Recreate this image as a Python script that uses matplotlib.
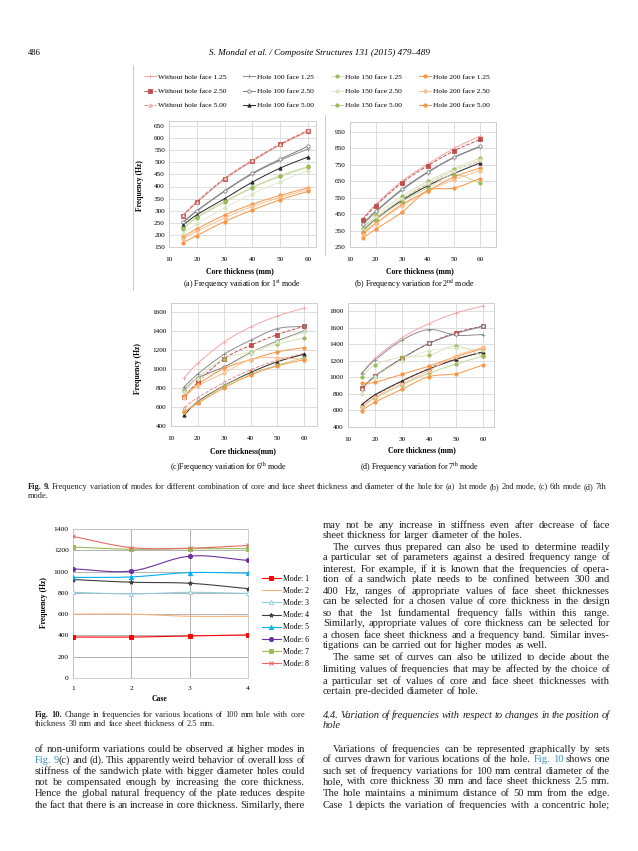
import numpy as np
import matplotlib
matplotlib.use('Agg')
import matplotlib.pyplot as plt
from matplotlib.lines import Line2D

W, H = 638, 851
plt.rcParams['mathtext.fontset'] = 'stix'

# ---------------- data: Fig. 9 ----------------
core = [15, 20, 30, 40, 50, 60]
face_labels = ['1.25', '2.50', '5.00']

# each list holds the three face sheet thicknesses 1.25 / 2.50 / 5.00
m1_nohole = [[278, 334, 430, 505, 572, 628], [280, 336, 432, 507, 574, 631], [282, 338, 434, 509, 576, 633]]
m1_h100 = [[250, 298, 380, 452, 508, 555], [253, 300, 382, 455, 513, 566], [240, 283, 350, 418, 476, 522]]
m1_h150 = [[228, 275, 340, 397, 445, 483], [205, 245, 312, 370, 420, 466], [225, 270, 335, 395, 442, 480]]
m1_h200 = [[192, 225, 282, 327, 363, 395], [185, 215, 270, 318, 355, 388], [168, 197, 255, 303, 345, 380]]

m2_nohole = [[423, 508, 650, 755, 850, 925], [415, 500, 640, 745, 835, 905], [365, 430, 540, 635, 715, 775]]
m2_h100 = [[385, 462, 595, 703, 793, 860], [390, 467, 600, 707, 796, 863], [350, 418, 532, 623, 697, 762]]
m2_h150 = [[366, 447, 558, 650, 725, 792], [355, 430, 545, 640, 715, 780], [340, 415, 525, 610, 690, 640]]
m2_h200 = [[335, 394, 508, 593, 676, 731], [320, 390, 500, 590, 660, 715], [303, 358, 461, 593, 609, 666]]

m6_nohole = [[908, 1058, 1285, 1443, 1558, 1642], [710, 860, 1110, 1250, 1362, 1450], [593, 698, 859, 992, 1093, 1163]]
m6_h100 = [[813, 946, 1156, 1303, 1425, 1450], [780, 905, 1023, 1173, 1296, 1400], [516, 656, 824, 964, 1076, 1156]]
m6_h150 = [[771, 908, 1110, 1180, 1261, 1327], [760, 890, 1000, 1165, 1285, 1390], [550, 650, 820, 950, 1040, 1120]]
m6_h200 = [[719, 838, 1006, 1100, 1180, 1226], [700, 820, 960, 1100, 1120, 1100], [544, 638, 803, 936, 1033, 1097]]

m7_nohole = [[1040, 1228, 1476, 1648, 1776, 1860], [870, 1010, 1230, 1410, 1540, 1620], [660, 780, 950, 1110, 1225, 1300]]
m7_h100 = [[1048, 1208, 1448, 1576, 1508, 1516], [856, 1016, 1228, 1408, 1528, 1616], [668, 788, 956, 1100, 1216, 1308]]
m7_h150 = [[1000, 1150, 1245, 1265, 1380, 1255], [800, 1000, 1200, 1320, 1350, 1330], [640, 748, 908, 1048, 1160, 1256]]
m7_h200 = [[928, 940, 1036, 1136, 1248, 1348], [640, 760, 920, 1080, 1260, 1360], [596, 700, 856, 1008, 1044, 1148]]

# ---------------- data: Fig. 10 ----------------
cases = [1, 2, 3, 4]
mode1 = [385, 385, 395, 405]
mode2 = [600, 600, 580, 580]
mode3 = [805, 790, 805, 795]
mode4 = [925, 900, 890, 840]
mode5 = [945, 950, 990, 985]
mode6 = [1025, 1005, 1145, 1105]
mode7 = [1230, 1210, 1215, 1215]
mode8 = [1330, 1225, 1220, 1245]

# styles (group -> three faces): color, linestyle, marker, marker face
group_names = ['Without hole', 'Hole 100', 'Hole 150', 'Hole 200']
group_styles = [
    [('#F4A6A4', '-', '+', '#F4A6A4'), ('#C0504D', '--', 's', '#C0504D'), ('#E58E8A', '--', '^', 'white')],
    [('#8C8C8C', '-', '+', '#8C8C8C'), ('#7F7F7F', '-', 'o', 'white'), ('#262626', '-', '^', '#262626')],
    [('#D7E4BD', '-', 'o', '#9BBB59'), ('#E3ECCF', '-', 'o', '#D7E4BD'), ('#C3D69B', '-', 'o', '#9BBB59')],
    [('#F79646', '-', 'o', '#F79646'), ('#FAC090', '-', 'o', '#FAC090'), ('#F79646', '-', 'o', '#F79646')],
]

fig = plt.figure(figsize=(W / 100, H / 100), dpi=100)
fig.patch.set_facecolor('white')


def smooth(xs, ys, n=16):
    # Catmull-Rom curve through the points, like Excel "smoothed line"
    p = np.column_stack([xs, ys]).astype(float)
    p = np.vstack([2 * p[0] - p[1], p, 2 * p[-1] - p[-2]])
    t = np.linspace(0, 1, n, endpoint=False)[:, None]
    out = []
    for i in range(1, len(p) - 2):
        p0, p1, p2, p3 = p[i - 1], p[i], p[i + 1], p[i + 2]
        out.append(0.5 * (2 * p1 + (-p0 + p2) * t + (2 * p0 - 5 * p1 + 4 * p2 - p3) * t ** 2
                          + (-p0 + 3 * p1 - 3 * p2 + p3) * t ** 3))
    out.append(p[-2][None])
    out = np.vstack(out)
    return out[:, 0], out[:, 1]


def axes_at(xt, xp, yt, yp, xlim, ylim):
    # place an axes so that tick values xt/yt land on pixel positions xp/yp
    sx = (xp[1] - xp[0]) / (xt[1] - xt[0])
    left = xp[0] + (xlim[0] - xt[0]) * sx
    right = xp[0] + (xlim[1] - xt[0]) * sx
    sy = (yp[1] - yp[0]) / (yt[1] - yt[0])
    top = yp[0] + (ylim[1] - yt[0]) * sy
    bottom = yp[0] + (ylim[0] - yt[0]) * sy
    ax = fig.add_axes([left / W, 1 - bottom / H, (right - left) / W, (bottom - top) / H])
    ax.set_xlim(xlim)
    ax.set_ylim(ylim)
    return ax


def style_axes(ax, xticks, yticks, grid_color='#D9D9D9', fs=5.2):
    ax.set_xticks(xticks)
    ax.set_yticks(yticks)
    ax.grid(True, color=grid_color, lw=0.6)
    ax.set_axisbelow(True)
    for s in ax.spines.values():
        s.set_color('#C8C8C8')
        s.set_linewidth(0.6)
    ax.tick_params(length=0, labelsize=fs, pad=3)
    ax.tick_params(axis='x', pad=7)
    for lab in ax.get_xticklabels() + ax.get_yticklabels():
        lab.set_fontfamily('Liberation Serif')


def ftext(x, y, s, **kw):
    return fig.text(x / W, 1 - y / H, s, **kw)


def draw_fig9_panel(ax, groups):
    for g, series in enumerate(groups):
        for f, vals in enumerate(series):
            c, ls, mk, mfc = group_styles[g][f]
            sx, sy = smooth(core, vals)
            ax.plot(sx, sy, color=c, ls=ls, lw=0.7, zorder=2)
            ax.plot(core, vals, ls='none', marker=mk, ms=2.4, color=c,
                    mec=c if mfc == 'white' else mfc, mfc=mfc, mew=0.6, zorder=3)


panels = [
    (((10, 60), (169, 308), (650, 150), (126, 247), (10, 63), (150, 670)),
     [m1_nohole, m1_h100, m1_h150, m1_h200], range(150, 651, 50)),
    (((10, 60), (349.5, 480), (950, 250), (132, 247), (10, 66), (250, 1010)),
     [m2_nohole, m2_h100, m2_h150, m2_h200], range(250, 951, 100)),
    (((10, 60), (171, 304), (1600, 400), (312, 426), (10, 65), (400, 1700)),
     [m6_nohole, m6_h100, m6_h150, m6_h200], range(400, 1601, 200)),
    (((10, 60), (348, 483), (1800, 400), (311, 427), (10, 64), (400, 1900)),
     [m7_nohole, m7_h100, m7_h150, m7_h200], range(400, 1801, 200)),
]
for geo, groups, yt in panels:
    ax = axes_at(*geo)
    style_axes(ax, range(10, 61, 10), list(yt))
    draw_fig9_panel(ax, groups)

serif = 'Liberation Serif'
lab_kw = dict(fontfamily=serif, fontsize=5.5, fontweight='bold', ha='center', va='center')
ftext(240, 271, 'Core thickness (mm)', **lab_kw)
ftext(420, 271, 'Core thickness (mm)', **lab_kw)
ftext(243, 451, 'Core thickness(mm)', **lab_kw)
ftext(422, 450, 'Core thickness (mm)', **lab_kw)
ftext(140, 186, 'Frequency (Hz)', rotation=90, **lab_kw)
ftext(138, 369, 'Frequency (Hz)', rotation=90, **lab_kw)

cap_kw = dict(fontfamily=serif, fontsize=5.8, ha='center', va='center')
ftext(242, 284, r'(a) Frequency variation for 1$^{\mathrm{st}}$ mode', **cap_kw)
ftext(414, 284, r'(b) Frequency variation for 2$^{\mathrm{nd}}$ mode', **cap_kw)
ftext(228, 467, r'(c)Frequency variation for 6$^{\mathrm{th}}$ mode', **cap_kw)
ftext(420, 467, r'(d) Frequency variation for 7$^{\mathrm{th}}$ mode', **cap_kw)

# legend of Fig. 9 (one column per hole group)
handles, labels = [], []
for g in range(4):
    for f in range(3):
        c, ls, mk, mfc = group_styles[g][f]
        handles.append(Line2D([], [], color=c, ls=ls, lw=0.7, marker=mk, ms=2.4,
                              mfc=mfc, mec=c if mfc == 'white' else mfc, mew=0.6))
        labels.append(f'{group_names[g]} face {face_labels[f]}')
fig.legend(handles, labels, ncol=4, loc='upper left', bbox_to_anchor=(140 / W, 1 - 70 / H),
           frameon=False, prop={'family': serif, 'size': 5.4}, handlelength=1.6,
           handletextpad=0.3, columnspacing=2.2, labelspacing=1.05, borderpad=0)

# thin frame lines of the original chart images
fig.add_artist(Line2D([133 / W, 133 / W], [1 - 65 / H, 1 - 290 / H], color='#BFBFBF', lw=0.6))
fig.add_artist(Line2D([325 / W, 325 / W], [1 - 115 / H, 1 - 255 / H], color='#BFBFBF', lw=0.6))

# ---------------- Fig. 10 ----------------
ax10 = axes_at((1, 4), (73, 248), (1400, 0), (529, 678), (1, 4), (0, 1400))
style_axes(ax10, cases, range(0, 1401, 200), grid_color='#A6A6A6', fs=5.4)
ax10.tick_params(axis='x', pad=6)
mode_vals = [mode1, mode2, mode3, mode4, mode5, mode6, mode7, mode8]
mode_styles = [('#FF0000', 's', '#FF0000'), ('#F9B27A', '_', '#F9B27A'), ('#93CDDD', '^', 'white'),
               ('#404040', '*', '#404040'), ('#00B0F0', '^', '#00B0F0'), ('#7030A0', 'o', '#7030A0'),
               ('#9BBB59', 's', '#9BBB59'), ('#E46C64', 'x', '#E46C64')]
h10 = []
for i, vals in enumerate(mode_vals):
    c, mk, mfc = mode_styles[i]
    sx, sy = smooth(cases, vals)
    ax10.plot(sx, sy, color=c, lw=0.8, zorder=2)
    ax10.plot(cases, vals, ls='none', marker=mk, ms=3, color=c, mfc=mfc, mec=c, mew=0.7, zorder=3)
    h10.append(Line2D([], [], color=c, lw=0.8, marker=mk, ms=3, mfc=mfc, mec=c, mew=0.7))
fig.legend(h10, [f'Mode: {i + 1}' for i in range(8)], loc='upper left',
           bbox_to_anchor=(258 / W, 1 - 571 / H), frameon=False,
           prop={'family': serif, 'size': 5.6}, handlelength=2.4, handletextpad=0.3,
           labelspacing=0.53, borderpad=0)
ftext(160, 699, 'Case', **lab_kw)
ftext(44, 603, 'Frequency (Hz)', rotation=90, **lab_kw)

# ---------------- page text ----------------
renderer = fig.canvas.get_renderer()
BODY = 'Liberation Serif'
LINK = '#3A8DBE'


def tokenize(segs):
    words, glue = [], False
    for txt, st in segs:
        parts = txt.split(' ')
        for i, p in enumerate(parts):
            if i == 0 and glue and words:
                if p:
                    words[-1].append((p, st))
            elif p:
                words.append([(p, st)])
        glue = not txt.endswith(' ')
    return words


def put_line(x0, x1, y, segs, size, justify=True, family=BODY, style='normal'):
    if isinstance(segs, str):
        segs = [(segs, {})]
    words = tokenize(segs)
    space = size * 100 / 72 * 0.25

    def build(sz):
        objs, widths = [], []
        for w in words:
            pieces, wsum = [], 0
            for txt, st in w:
                kw = dict(fontfamily=family, fontsize=sz, fontstyle=style, va='baseline', ha='left',
                          color='#231F20')
                kw.update(st)
                t = fig.text(0, 1 - y / H, txt, **kw)
                bw = t.get_window_extent(renderer).width
                pieces.append((t, bw))
                wsum += bw
            objs.append(pieces)
            widths.append(wsum)
        return objs, widths

    objs, widths = build(size)
    # shrink a line that would not fit with a minimal word gap
    need = sum(widths) + space * 0.8 * (len(words) - 1)
    if need > x1 - x0:
        for pieces in objs:
            for t, _ in pieces:
                t.remove()
        objs, widths = build(size * (x1 - x0) / need)
    if justify and len(words) > 1:
        gap = (x1 - x0 - sum(widths)) / (len(words) - 1)
    else:
        gap = space
    x = x0
    for pieces, wsum in zip(objs, widths):
        xx = x
        for t, bw in pieces:
            t.set_x(xx / W)
            xx += bw
        x += wsum + gap


BS = 7.6
CS = 6.0
bold = {'fontweight': 'bold'}
link = {'color': LINK}

# header
ftext(28, 55, '486', fontfamily=BODY, fontsize=6.2, va='baseline')
ftext(320, 55, 'S. Mondal et al. / Composite Structures 131 (2015) 479\u2013489', fontfamily=BODY,
      fontsize=6.6, style='italic', ha='center', va='baseline')

# Fig. 9 caption
put_line(28, 606, 489, [('Fig. 9.', bold), (' Frequency variation of modes for different combination of core and face '
                                            'sheet thickness and diameter of the hole for (a) 1st mode (b) 2nd mode, '
                                            '(c) 6th mode (d) 7th', {})], CS)
put_line(28, 606, 498, 'mode.', CS, justify=False)

# Fig. 10 caption
put_line(35, 305, 717, [('Fig. 10.', bold), (' Change in frequencies for various locations of 100 mm hole with core', {})], CS)
put_line(35, 305, 726.5, 'thickness 30 mm and face sheet thickness of 2.5 mm.', CS, justify=False)

left_lines = [
    ('of non-uniform variations could be observed at higher modes in', True),
    ([('Fig. 9', link), ('(c) and (d). This apparently weird behavior of overall loss of', {})], True),
    ('stiffness of the sandwich plate with bigger diameter holes could', True),
    ('not be compensated enough by increasing the core thickness.', True),
    ('Hence the global natural frequency of the plate reduces despite', True),
    ('the fact that there is an increase in core thickness. Similarly, there', True),
]
for i, (txt, j) in enumerate(left_lines):
    put_line(35, 305, 752 + i * 11.1, txt, BS, justify=j)

R0, R1 = 323, 610
right_lines = [
    (525, 0, 'may not be any increase in stiffness even after decrease of face', True),
    (536, 0, 'sheet thickness for larger diameter of the holes.', False),
    (547, 10, 'The curves thus prepared can also be used to determine readily', True),
    (558, 0, 'a particular set of parameters against a desired frequency range of', True),
    (569, 0, 'interest. For example, if it is known that the frequencies of opera-', True),
    (580, 0, 'tion of a sandwich plate needs to be confined between 300 and', True),
    (591, 0, '400 Hz, ranges of appropriate values of face sheet thicknesses', True),
    (602, 0, 'can be selected for a chosen value of core thickness in the design', True),
    (613, 0, 'so that the 1st fundamental frequency falls within this range.', True),
    (624, 0, 'Similarly, appropriate values of core thickness can be selected for', True),
    (635, 0, 'a chosen face sheet thickness and a frequency band. Similar inves-', True),
    (646, 0, 'tigations can be carried out for higher modes as well.', False),
    (658, 10, 'The same set of curves can also be utilized to decide about the', True),
    (669, 0, 'limiting values of frequencies that may be affected by the choice of', True),
    (681, 0, 'a particular set of values of core and face sheet thicknesses with', True),
    (692, 0, 'certain pre-decided diameter of hole.', False),
    (749, 10, 'Variations of frequencies can be represented graphically by sets', True),
    (760, 0, [('of curves drawn for various locations of the hole. ', {}), ('Fig. 10', link), (' shows one', {})], True),
    (771, 0, 'such set of frequency variations for 100 mm central diameter of the', True),
    (782, 0, 'hole, with core thickness 30 mm and face sheet thickness 2.5 mm.', True),
    (793, 0, 'The hole maintains a minimum distance of 50 mm from the edge.', True),
    (805, 0, 'Case 1 depicts the variation of frequencies with a concentric hole;', True),
]
for y, ind, txt, j in right_lines:
    put_line(R0 + ind, R1, y + 2.5, txt, BS, justify=j)

put_line(R0, R1, 717.5, '4.4. Variation of frequencies with respect to changes in the position of', BS,
         style='italic')
put_line(R0, R1, 728.5, 'hole', BS, justify=False, style='italic')

fig.savefig('out.png', dpi=100, facecolor='white')
